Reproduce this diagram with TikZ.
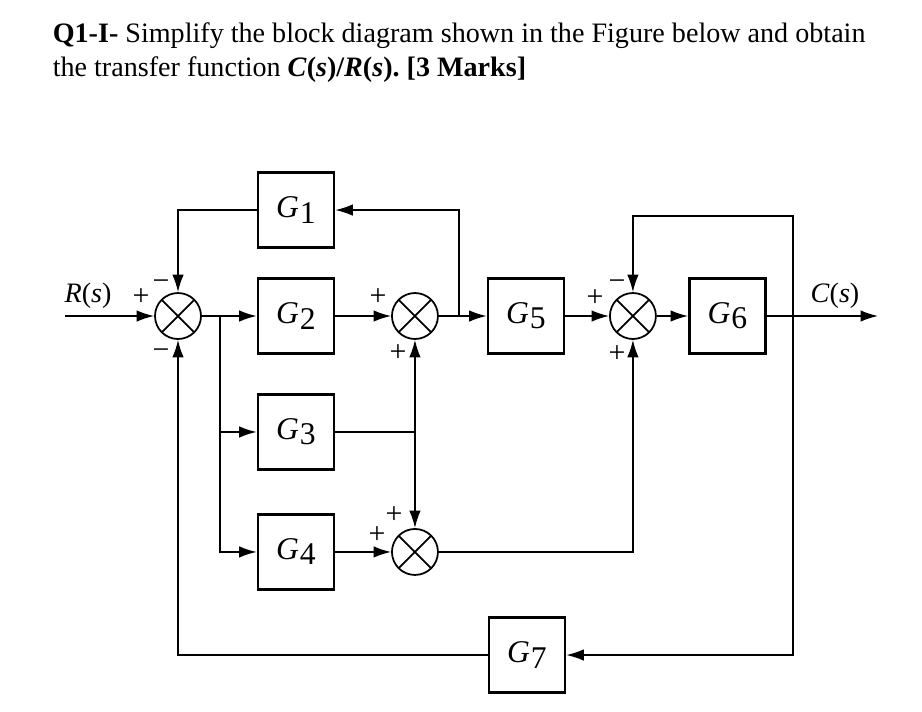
\documentclass[tikz,border=0pt]{standalone}
\usepackage{fontspec}
\setmainfont{Liberation Serif}
\usetikzlibrary{arrows.meta,positioning,calc}
\newcommand{\gname}[1]{\textit{G}\kern0.5pt\raisebox{-0.35ex}{#1}}

\begin{document}
\begin{tikzpicture}[x=0.02cm, y=-0.02cm, >={Latex[length=3.5mm,width=2.3mm]}, line width=0.9pt,
  blk/.style={draw, line width=1.5pt, minimum width=1.52cm, minimum height=1.5cm, inner sep=0pt, font=\fontsize{18}{20}\selectfont},
  sumnode/.style={circle, draw, line width=1pt, minimum size=0.92cm, inner sep=0pt,
    path picture={\draw[line width=1pt] (path picture bounding box.north west) -- (path picture bounding box.south east)
      (path picture bounding box.south west) -- (path picture bounding box.north east);}},
  sgn/.style={font=\fontsize{17}{17}\selectfont, inner sep=0pt},
  lbl/.style={font=\fontsize{16}{18}\selectfont},
  ttl/.style={anchor=base west, inner sep=0pt, font=\fontsize{16}{19}\selectfont}]
\useasboundingbox (0,0) rectangle (922,711);
\node[ttl] (title1) at (52,42) {\textbf{Q1-I-} Simplify the block diagram shown in the Figure below and obtain};
\node[ttl] (title2) at (52,76) {the transfer function \textbf{\textit{C}(\textit{s})/\textit{R}(\textit{s}).\ [3 Marks]}};

\node[sumnode] (s1) at (178,316) {};
\node[blk, right of=s1, node distance=2.36cm] (g2) {\gname{2}};
\node[sumnode, right of=g2, node distance=2.38cm] (s2) {};
\node[blk, right of=s2, node distance=2.22cm] (g5) {\gname{5}};
\node[sumnode, right of=g5, node distance=2.14cm] (s3) {};
\node[blk, right of=s3, node distance=1.89cm] (g6) {\gname{6}};
\node[blk, above of=g2, node distance=2.12cm] (g1) {\gname{1}};
\node[blk, below of=g2, node distance=2.32cm] (g3) {\gname{3}};
\node[blk, below of=g3, node distance=2.4cm] (g4) {\gname{4}};
\node[sumnode] (s4) at (s2 |- g4) {};
\node[blk] (g7) at (527,655) {\gname{7}};

\coordinate (rin) at (65,316);
\coordinate (cout) at (878,316);
\coordinate (b1) at (220,316);
\coordinate (b2) at (459,316);
\coordinate (b3) at (793,316);
\coordinate (top3) at (793,216);
\coordinate (j3) at (s2 |- g3);

\draw[->] (rin) -- (s1);
\draw[->] (s1) -- (g2);
\draw[->] (b1) |- (g3);
\draw[->] (b1) |- (g4);
\draw[->] (g1) -| (s1);
\draw[->] (g7) -| (s1);
\draw[->] (g2) -- (s2);
\draw[->] (s2) -- (g5);
\draw[->] (b2) |- (g1);
\draw[->] (g5) -- (s3);
\draw[->] (s3) -- (g6);
\draw[->] (g6) -- (cout);
\draw[->] (b3) -- (top3) -| (s3);
\draw[->] (b3) |- (g7);
\draw (g3) -- (j3);
\draw[->] (j3) -- (s2);
\draw[->] (j3) -- (s4);
\draw[->] (g4) -- (s4);
\draw[->] (s4) -| (s3);

% labels and signs
\node[lbl] (rlab) at (88,296) {\textit{R}(\textit{s})};
\node[lbl] (clab) at (835,296) {\textit{C}(\textit{s})};
\node[sgn] (p1a) at (141,297) {+};
\node[sgn] (m1a) at (161,285) {−};
\node[sgn] (m1b) at (161,354) {−};
\node[sgn] (p2a) at (378,297) {+};
\node[sgn] (p2b) at (398,353) {+};
\node[sgn] (p3a) at (595,298) {+};
\node[sgn] (m3a) at (617,285) {−};
\node[sgn] (p3b) at (617,354) {+};
\node[sgn] (p4a) at (394,515) {+};
\node[sgn] (p4b) at (377,535) {+};
\end{tikzpicture}
\end{document}
